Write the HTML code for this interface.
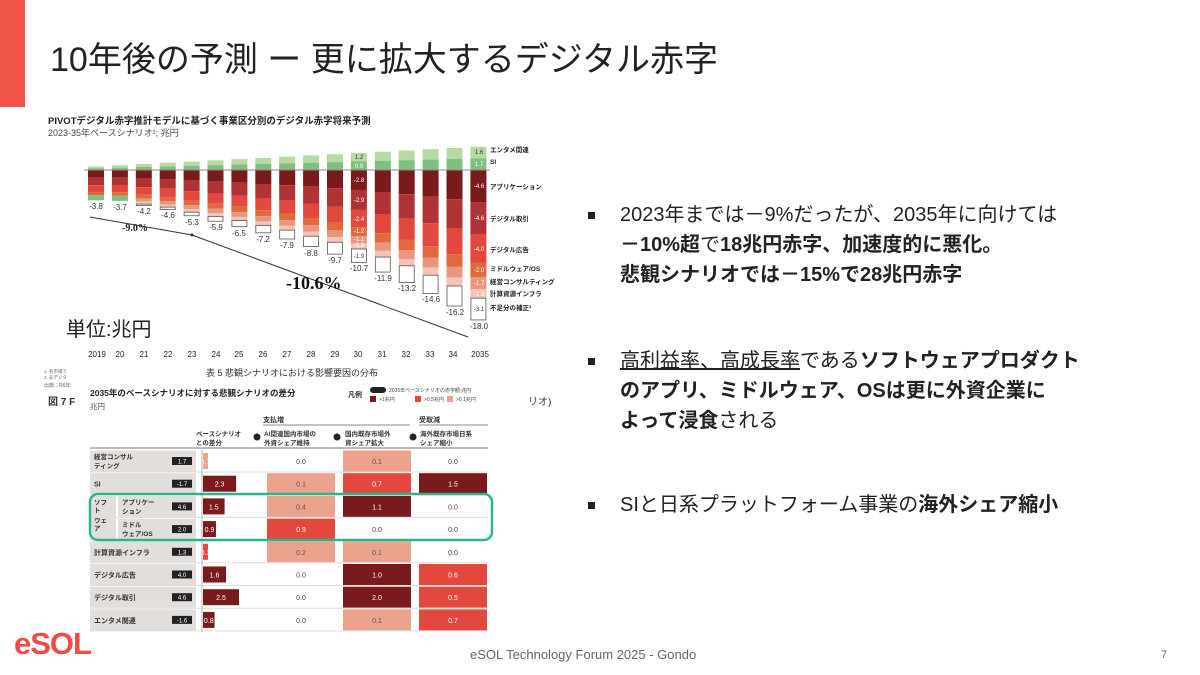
<!DOCTYPE html>
<html><head><meta charset="utf-8"><style>
body{margin:0;width:1200px;height:675px;background:#fff;position:relative;overflow:hidden;font-family:"Liberation Sans","Noto Sans CJK JP",sans-serif;}
.a{position:absolute;white-space:nowrap;}
.t{font-size:34px;color:#222;left:50px;top:32px;}
.b{font-size:20px;color:#222;line-height:30px;}
.sq{position:absolute;width:7px;height:7px;background:#222;}
svg text{font-family:"Liberation Sans","Noto Sans CJK JP",sans-serif;}
</style></head><body>
<div class="a" style="left:0;top:0;width:25px;height:107px;background:#f0554a"></div>
<div class="a t">10年後の予測 ー 更に拡大するデジタル赤字</div>

<div class="sq" style="left:588px;top:212px"></div>
<div class="a b" style="left:620px;top:200px">2023年までは－9%だったが、2035年に向けては<br><b>－10%超</b>で<b>18兆円赤字、加速度的に悪化。</b><br><b>悲観シナリオでは－15%で28兆円赤字</b></div>
<div class="sq" style="left:588px;top:358px"></div>
<div class="a b" style="left:620px;top:346px"><u>高利益率、高成長率</u>である<b>ソフトウェアプロダクト</b><br><b>のアプリ、ミドルウェア、OSは更に外資企業に</b><br><b>よって浸食</b>される</div>
<div class="sq" style="left:588px;top:502px"></div>
<div class="a b" style="left:620px;top:490px">SIと日系プラットフォーム事業の<b>海外シェア縮小</b></div>

<div class="a" style="left:470px;top:647px;font-size:13px;color:#666">eSOL Technology Forum 2025 - Gondo</div>
<div class="a" style="left:1161px;top:649px;font-size:11px;color:#666">7</div>
<div class="a" style="left:14px;top:626px;font-size:31px;font-weight:bold;color:#ef4b45;letter-spacing:-1px">eSOL</div>

<svg id="c" class="a" style="left:0;top:0" width="1200" height="675">
<text x="48" y="124" font-size="9.5" font-weight="bold" fill="#222">PIVOTデジタル赤字推計モデルに基づく事業区分別のデジタル赤字将来予測</text>
<text x="48" y="136" font-size="9" fill="#444">2023-35年ベースシナリオ¹; 兆円</text>
<g id="bars"></g>
<line x1="84" y1="170" x2="490" y2="170" stroke="#888" stroke-width="1"/>
<polyline points="90,217 192,235 468,337" fill="none" stroke="#333" stroke-width="1"/>
<circle cx="192" cy="235" r="1.5" fill="#333"/>
<text x="122" y="231" font-size="10" font-weight="bold" fill="#222" style="font-family:'Liberation Serif',serif">-9.0%</text>
<text x="286" y="289" font-size="18" font-weight="bold" fill="#111" style="font-family:'Liberation Serif',serif">-10.6%</text>
<g font-size="8" fill="#333" text-anchor="middle">
<text x="96" y="209">-3.8</text><text x="120" y="210">-3.7</text><text x="144" y="214">-4.2</text><text x="168" y="218">-4.6</text><text x="192" y="225">-5.3</text><text x="216" y="230">-5.9</text><text x="239" y="236">-6.5</text><text x="263" y="242">-7.2</text><text x="287" y="248">-7.9</text><text x="311" y="256">-8.8</text><text x="335" y="263">-9.7</text><text x="359" y="271">-10.7</text><text x="383" y="281">-11.9</text><text x="407" y="291">-13.2</text><text x="431" y="302">-14.6</text><text x="455" y="315">-16.2</text><text x="479" y="329">-18.0</text>
</g>
<g font-size="6" fill="#fff" text-anchor="middle">
<text x="479" y="154" fill="#333">1.6</text><text x="479" y="166">1.7</text><text x="479" y="188">-4.6</text><text x="479" y="220">-4.6</text><text x="479" y="251">-4.0</text><text x="479" y="272">-2.0</text><text x="479" y="285">-1.7</text><text x="479" y="296">-1.3</text><text x="479" y="311" fill="#333">-3.1</text>
<text x="359" y="159" fill="#333">1.2</text><text x="359" y="168">0.9</text><text x="359" y="182">-2.8</text><text x="359" y="202">-2.9</text><text x="359" y="221">-2.4</text><text x="359" y="233">-1.2</text><text x="359" y="241">-1.1</text><text x="359" y="247">-0.6</text><text x="359" y="258" fill="#333">-1.9</text>
</g>
<g font-size="6.5" fill="#222" font-weight="bold">
<text x="490" y="152">エンタメ関連</text><text x="490" y="164">SI</text><text x="490" y="189">アプリケーション</text><text x="490" y="221">デジタル取引</text><text x="490" y="252">デジタル広告</text><text x="490" y="271">ミドルウェア/OS</text><text x="490" y="284">経営コンサルティング</text><text x="490" y="296">計算資源インフラ</text><text x="490" y="310">不足分の補正²</text>
</g>
<text x="66" y="336" font-size="20" fill="#222">単位:兆円</text>
<g font-size="8" fill="#222" text-anchor="middle">
<text x="97" y="357">2019</text><text x="120" y="357">20</text><text x="144" y="357">21</text><text x="168" y="357">22</text><text x="192" y="357">23</text><text x="216" y="357">24</text><text x="239" y="357">25</text><text x="263" y="357">26</text><text x="287" y="357">27</text><text x="311" y="357">28</text><text x="335" y="357">29</text><text x="358" y="357">30</text><text x="382" y="357">31</text><text x="406" y="357">32</text><text x="430" y="357">33</text><text x="453" y="357">34</text><text x="480" y="357">2035</text>
</g>
<text x="206" y="376" font-size="9" fill="#333">表 5 悲観シナリオにおける影響要因の分布</text>
<text x="44" y="373" font-size="4.5" fill="#666">1. 各市場で</text><text x="44" y="379" font-size="4.5" fill="#666">2. 非デジタ</text><text x="44" y="387" font-size="5" fill="#666">出典：R6年</text>
<text x="48" y="405" font-size="10" font-weight="bold" fill="#333">図 7 F</text>
<text x="528" y="405" font-size="10" fill="#333">リオ)</text>
<text x="90" y="396" font-size="8.5" font-weight="bold" fill="#222">2035年のベースシナリオに対する悲観シナリオの差分</text>
<text x="90" y="409" font-size="7.5" fill="#555">兆円</text>
<text x="348" y="397" font-size="7" font-weight="bold" fill="#333">凡例</text>
<rect x="370" y="387" width="16" height="6" rx="3" fill="#222"/>
<text x="389" y="392" font-size="5" fill="#444">2035年ベースシナリオの赤字額;兆円</text>
<rect x="370" y="396" width="6" height="6" fill="#7b1a1d"/><text x="379" y="401" font-size="5" fill="#444">&gt;1兆円</text>
<rect x="415" y="396" width="6" height="6" fill="#e2483d"/><text x="424" y="401" font-size="5" fill="#444">&gt;0.5兆円</text>
<rect x="447" y="396" width="6" height="6" fill="#eba38e"/><text x="456" y="401" font-size="5" fill="#444">&gt;0.1兆円</text>
<text x="263" y="422" font-size="7" font-weight="bold" fill="#333">支払増</text>
<line x1="263" y1="425" x2="410" y2="425" stroke="#888"/>
<text x="419" y="422" font-size="7" font-weight="bold" fill="#333">受取減</text>
<line x1="419" y1="425" x2="488" y2="425" stroke="#888"/>
<g font-size="6.5" fill="#333" font-weight="bold">
<text x="196" y="436">ベースシナリオ</text><text x="196" y="445">との差分</text>
<circle cx="257" cy="437" r="3.5" fill="#222"/><circle cx="337" cy="437" r="3.5" fill="#222"/><circle cx="413" cy="437" r="3.5" fill="#222"/>
<text x="264" y="436">AI関連国内市場の</text><text x="264" y="445">外資シェア維持</text>
<text x="345" y="436">国内既存市場外</text><text x="345" y="445">資シェア拡大</text>
<text x="420" y="436">海外既存市場日系</text><text x="420" y="445">シェア縮小</text>
</g>
<line x1="90" y1="448" x2="488" y2="448" stroke="#777" stroke-width="1"/>
<g id="tbl"></g>
<line x1="202" y1="450" x2="202" y2="632" stroke="#999" stroke-width="0.7"/>
<rect x="90" y="494" width="402" height="46" rx="8" fill="none" stroke="#2bb58a" stroke-width="2.5"/>
</svg>
<script>
(function(){
var NS="http://www.w3.org/2000/svg";
function R(g,x,y,w,h,f,s){var r=document.createElementNS(NS,"rect");r.setAttribute("x",x);r.setAttribute("y",y);r.setAttribute("width",w);r.setAttribute("height",Math.max(h,0));r.setAttribute("fill",f);if(s){r.setAttribute("stroke",s);r.setAttribute("stroke-width","0.8");}g.appendChild(r);}
var tot=[3.8,3.7,4.2,4.6,5.3,5.9,6.5,7.2,7.9,8.8,9.7,10.7,11.9,13.2,14.6,16.2,18.0];
var k=7.04,g=document.getElementById("bars");
var cols=["#7b1a1d","#b03234","#e2483d","#e06a3d","#e8967f","#f3c4b4"];
var prop=[4.6,4.6,4.0,2.0,1.7,1.3];
for(var i=0;i<17;i++){var t=i/16,x=88+i*23.9;
 var pos=0.5+2.8*t, sp=pos*0.5;
 R(g,x,170-pos*k,16,(pos-sp)*k,"#b6d9a6");R(g,x,170-sp*k,16,sp*k,"#7fbf7f");
 var wh=i<2?0:3.1*Math.pow(t,1.3);var red=tot[i]+pos-wh;var y=170;
 for(var j=0;j<6;j++){var h=red*prop[j]/18.2*k;R(g,x,y,16,h,cols[j]);y+=h;}
 if(i<2){R(g,x,y-5,16,5,"#7fbf7f");}
 if(wh>0)R(g,x+0.5,y,15,wh*k,"#fff","#555");
}
var tg=document.getElementById("tbl");
var rows=[["経営コンサル","ティング","1.7",0.1,"0.0","","0.1","L","0.0",""],
["SI","","-1.7",2.3,"0.1","L","0.7","M","1.5","D"],
["アプリケー","ション","4.6",1.5,"0.4","L","1.1","D","0.0",""],
["ミドル","ウェア/OS","2.0",0.9,"0.9","M","0.0","","0.0",""],
["計算資源インフラ","","1.3",0.3,"0.2","L","0.1","L","0.0",""],
["デジタル広告","","4.0",1.6,"0.0","","1.0","D","0.6","M"],
["デジタル取引","","4.6",2.5,"0.0","","2.0","D","0.5","M"],
["エンタメ関連","","-1.6",0.8,"0.0","","0.1","L","0.7","M"]];
var C={D:"#7b1a1d",M:"#e2483d",L:"#eba38e"};
function T(x,y,s,sz,f,a,b){var e=document.createElementNS(NS,"text");e.setAttribute("x",x);e.setAttribute("y",y);e.setAttribute("font-size",sz);e.setAttribute("fill",f);if(a)e.setAttribute("text-anchor",a);if(b)e.setAttribute("font-weight","bold");e.textContent=s;tg.appendChild(e);}
for(var r=0;r<8;r++){var d=rows[r],cy=461+r*22.7,tp=cy-10.5;
 var lx=(r==2||r==3)?118:90;
 R(tg,lx,tp,106-(lx-90),21,"#e2dedb");
 if(r==2){R(tg,90,tp,26,44,"#e2dedb");T(94,cy-2,"ソフ",6.5,"#333",null,1);T(94,cy+6,"ト",6.5,"#333",null,1);T(94,cy+16,"ウェ",6.5,"#333",null,1);T(94,cy+24,"ア",6.5,"#333",null,1);}
 if(d[1]){T(lx+4,cy-2,d[0],6.5,"#333",null,1);T(lx+4,cy+7,d[1],6.5,"#333",null,1);}else T(lx+4,cy+3,d[0],7,"#333",null,1);
 R(tg,172,cy-4,20,8,"#222");T(182,cy+2.5,d[2],6,"#fff","middle");
 var bw=Math.max(d[3]*14.4,5);var bc=d[3]<0.5?"#e2483d":"#7b1a1d";if(r==0)bc="#eba38e";
 R(tg,203,cy-8,bw,16,bc);T(203+bw/2,cy+3,d[3].toFixed(1),7,"#fff","middle");
 var xs=[267,343,419];
 for(var c=0;c<3;c++){var v=d[4+c*2],cl=d[5+c*2];if(cl)R(tg,xs[c],tp,68,21,C[cl]);T(xs[c]+34,cy+3,v,7,cl?(cl=="L"?"#555":"#fff"):"#444","middle");}
 var ln=document.createElementNS(NS,"line");ln.setAttribute("x1",90);ln.setAttribute("x2",488);ln.setAttribute("y1",tp+21.5);ln.setAttribute("y2",tp+21.5);ln.setAttribute("stroke","#ddd");tg.appendChild(ln);
}
})();
</script>
</body></html>
